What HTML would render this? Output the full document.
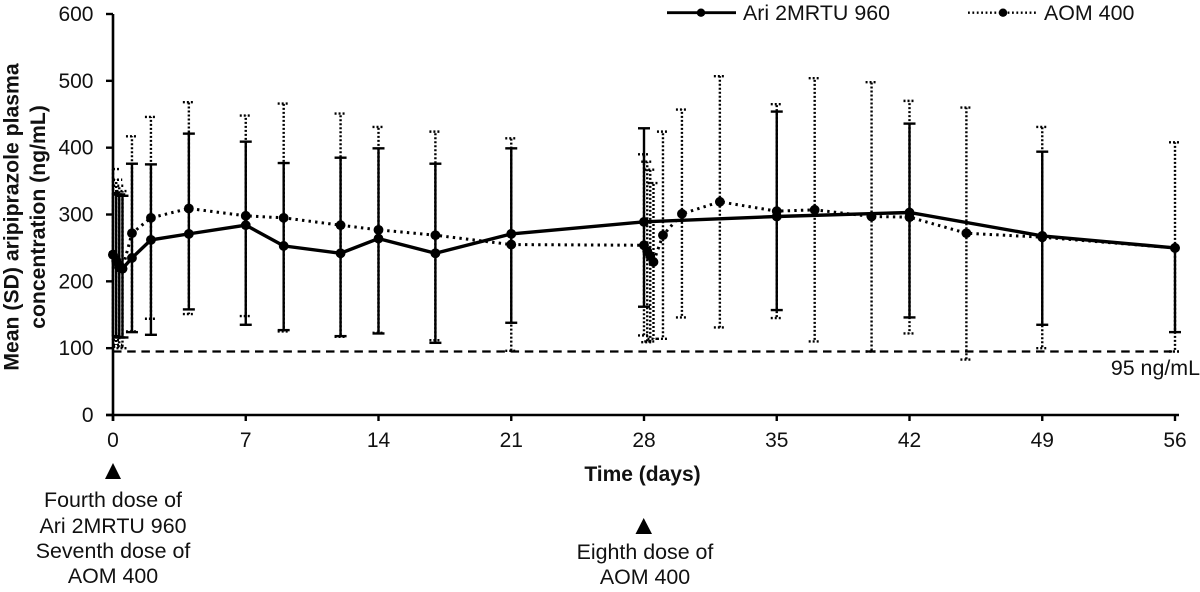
<!DOCTYPE html>
<html>
<head>
<meta charset="utf-8">
<title>Aripiprazole plasma concentration</title>
<style>
html,body{margin:0;padding:0;background:#fff;}
svg{display:block;}
text{font-family:"Liberation Sans",sans-serif;fill:#111;}
</style>
</head>
<body>
<svg id="chart" width="1200" height="592" viewBox="0 0 1200 592" xmlns="http://www.w3.org/2000/svg">
  <g id="error-layer"></g>
  <g id="threshold-layer"></g>
  <g id="axis-layer"></g>
  <g id="line-layer"></g>

  <text transform="translate(18.5,217) rotate(-90)" text-anchor="middle" font-size="21.2" font-weight="bold">Mean (SD) aripiprazole plasma</text>
  <text transform="translate(45,217) rotate(-90)" text-anchor="middle" font-size="21.2" font-weight="bold">concentration (ng/mL)</text>
  <text x="642.5" y="481" text-anchor="middle" font-size="21" font-weight="bold">Time (days)</text>

  <text x="1200" y="375" text-anchor="end" font-size="21.4">95 ng/mL</text>

  <g>
    <line x1="667" y1="12.7" x2="736" y2="12.7" stroke="#000" stroke-width="2.8"/>
    <circle cx="701" cy="12.7" r="4.2" fill="#000"/>
    <text x="743" y="20" font-size="21.4">Ari 2MRTU 960</text>
    <line x1="968" y1="12.7" x2="1036" y2="12.7" stroke="#000" stroke-width="2.4" stroke-dasharray="1.8 2.6"/>
    <circle cx="1003" cy="12.7" r="4.2" fill="#000"/>
    <text x="1044" y="20" font-size="21.4">AOM 400</text>
  </g>

  <g>
    <polygon points="113,463 121,479 105,479" fill="#000"/>
    <text x="113" y="507" text-anchor="middle" font-size="21.4">Fourth dose of</text>
    <text x="113" y="533" text-anchor="middle" font-size="21.4">Ari 2MRTU 960</text>
    <text x="113" y="558" text-anchor="middle" font-size="21.4">Seventh dose of</text>
    <text x="113" y="583" text-anchor="middle" font-size="21.4">AOM 400</text>
  </g>
  <g>
    <polygon points="643.7,518 652,534 635.5,534" fill="#000"/>
    <text x="645" y="559" text-anchor="middle" font-size="21.4">Eighth dose of</text>
    <text x="645" y="584" text-anchor="middle" font-size="21.4">AOM 400</text>
  </g>
</svg>
<script>
const yTickValues = [0, 100, 200, 300, 400, 500, 600];
const xTickValues = [0, 7, 14, 21, 28, 35, 42, 49, 56];
const thresholdValue = 95;

const ariDays = [0, 0.17, 0.33, 0.5, 1, 2, 4, 7, 9, 12, 14, 17, 21, 28, 35, 42, 49, 56];
const ariMean = [240, 230, 221, 219, 235, 262, 271, 284, 253, 242, 264, 242, 271, 289, 297, 303, 268, 250];
const ariUpper = [332, 330, 330, 328, 376, 375, 421, 409, 377, 385, 399, 376, 399, 429, 454, 436, 394, null];
const ariLower = [118, 117, 116, 116, 124, 120, 158, 135, 127, 118, 122, 108, 138, 162, 157, 146, 135, 124];

const aomDays = [0, 0.17, 0.33, 0.5, 1, 2, 4, 7, 9, 12, 14, 17, 21, 28, 28.17, 28.33, 28.5, 29, 30, 32, 35, 37, 40, 42, 45, 49, 56];
const aomMean = [240, 232, 224, 219, 272, 295, 309, 298, 295, 284, 277, 269, 255, 254, 245, 238, 229, 269, 301, 319, 305, 307, 297, 296, 272, 266, 250];
const aomUpper = [368, 352, 343, 335, 417, 446, 468, 448, 466, 451, 431, 424, 414, 390, 379, 367, 347, 424, 457, 507, 465, 504, 498, 470, 460, 431, 408];
const aomLower = [112, 105, 102, 100, 125, 144, 151, 148, 125, 117, 123, 112, 96, 119, 109, 110, 114, 114, 146, 131, 145, 110, 95, 122, 83, 100, 95];

const SVGNS = 'http://www.w3.org/2000/svg';
function xScale(day) { return 113 + day * (1175 - 113) / 56; }
function yScale(v) { return 415 - v * (415 - 14) / 600; }
function make(tag, attrs, parent) {
  const el = document.createElementNS(SVGNS, tag);
  for (const k in attrs) el.setAttribute(k, attrs[k]);
  parent.appendChild(el);
  return el;
}

const errorLayer = document.getElementById('error-layer');
const axisLayer = document.getElementById('axis-layer');
const lineLayer = document.getElementById('line-layer');
const thresholdLayer = document.getElementById('threshold-layer');

function capLeft(x) { return Math.max(xScale(0), x - 6); }

function drawErrors(seriesName, days, means, upper, lower, style) {
  days.forEach(function (d, i) {
    const x = xScale(d);
    if (upper[i] !== null) {
      const up = make('line', Object.assign({x1: x, x2: x, y1: yScale(means[i]), y2: yScale(upper[i])}, style), errorLayer);
      
      
      const capU = make('line', Object.assign({x1: capLeft(x), x2: x + 6, y1: yScale(upper[i]), y2: yScale(upper[i])}, style), errorLayer);
      
      
    }
    const lo = make('line', Object.assign({x1: x, x2: x, y1: yScale(means[i]), y2: yScale(lower[i])}, style), errorLayer);
    
    
    const capL = make('line', Object.assign({x1: capLeft(x), x2: x + 6, y1: yScale(lower[i]), y2: yScale(lower[i])}, style), errorLayer);
    
    
  });
}

function drawSeries(seriesName, days, means, style) {
  const pts = days.map(function (d, i) { return xScale(d) + ',' + yScale(means[i]); }).join(' ');
  const line = make('polyline', Object.assign({points: pts, fill: 'none'}, style), lineLayer);
  
  
  days.forEach(function (d, i) {
    const c = make('circle', {cx: xScale(d), cy: yScale(means[i]), r: 4.9, fill: '#000'}, lineLayer);
    
    
  });
}

drawErrors('aom', aomDays, aomMean, aomUpper, aomLower, {stroke: '#000', 'stroke-width': 2.4, 'stroke-dasharray': '2 2'});
drawErrors('ari', ariDays, ariMean, ariUpper, ariLower, {stroke: '#000', 'stroke-width': 2.4});

const threshold = make('line', {x1: 113, x2: 1179, y1: yScale(thresholdValue), y2: yScale(thresholdValue), stroke: '#000', 'stroke-width': 2.2, 'stroke-dasharray': '8.5 5.7'}, thresholdLayer);



const yAxis = make('line', {x1: 113, x2: 113, y1: yScale(600), y2: 421, stroke: '#000', 'stroke-width': 2.6}, axisLayer);


const xAxis = make('line', {x1: 106, x2: 1179, y1: yScale(0), y2: yScale(0), stroke: '#000', 'stroke-width': 2.6}, axisLayer);



yTickValues.forEach(function (v) {
  const t = make('line', {x1: 106, x2: 113, y1: yScale(v), y2: yScale(v), stroke: '#000', 'stroke-width': 2.4}, axisLayer);
  
  
  const lab = make('text', {x: 93.5, y: yScale(v) + 7, 'text-anchor': 'end', 'font-size': 21}, axisLayer);
  
  
  lab.textContent = String(v);
});
xTickValues.forEach(function (v) {
  const t = make('line', {x1: xScale(v), x2: xScale(v), y1: yScale(0), y2: 421, stroke: '#000', 'stroke-width': 2.4}, axisLayer);
  
  
  const lab = make('text', {x: xScale(v), y: 447, 'text-anchor': 'middle', 'font-size': 21}, axisLayer);
  
  
  lab.textContent = String(v);
});

drawSeries('aom', aomDays, aomMean, {stroke: '#000', 'stroke-width': 3, 'stroke-dasharray': '2.4 4.2'});
drawSeries('ari', ariDays, ariMean, {stroke: '#000', 'stroke-width': 3.4});
</script>
</body>
</html>
